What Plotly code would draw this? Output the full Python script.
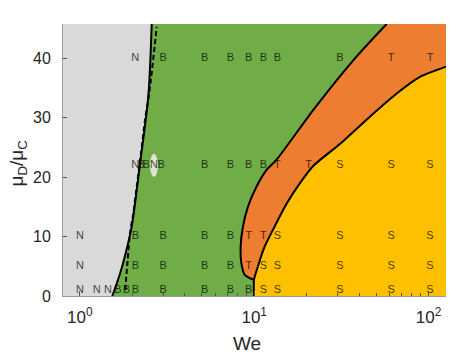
import numpy as np
import plotly.graph_objects as go

# ---------------- data ----------------
x_lim = [0.8, 126]
y_lim = [0, 45.8]

x_tickvals = [1, 10, 100]
x_ticktext = ["10<sup>0</sup>", "10<sup>1</sup>", "10<sup>2</sup>"]
x_minor = [2, 3, 4, 5, 6, 7, 8, 9, 20, 30, 40, 50, 60, 70, 80, 90]
y_tickvals = [0, 10, 20, 30, 40]

# regime labels, one row per viscosity ratio
row40_we = [2.08, 3, 5.2, 7.3, 9.3, 11.3, 13.6, 31, 61, 102]
row40_lab = ["N", "B", "B", "B", "B", "B", "B", "B", "T", "T"]
row22_we = [2.08, 2.25, 2.4, 2.66, 2.93, 5.2, 7.3, 9.3, 11.3, 13.6, 20.5, 31, 61, 102]
row22_lab = ["N", "B", "B", "N", "B", "B", "B", "B", "B", "T", "T", "S", "S", "S"]
row10_we = [1, 2.08, 3, 5.2, 7.3, 9.3, 11.3, 13.6, 31, 61, 102]
row10_lab = ["N", "B", "B", "B", "B", "T", "T", "S", "S", "S", "S"]
row5_we = [1, 2.08, 3, 5.2, 7.3, 9.3, 11.3, 13.6, 31, 61, 102]
row5_lab = ["N", "B", "B", "B", "B", "T", "S", "S", "S", "S", "S"]
row1_we = [1, 1.25, 1.45, 1.65, 1.85, 2.08, 3, 5.2, 7.3, 9.3, 11.3, 13.6, 31, 61, 102]
row1_lab = ["N", "N", "N", "B", "B", "B", "B", "B", "B", "B", "S", "S", "S", "S", "S"]
row_ratios = [40, 22, 10, 5, 1]

# highlighted point
mark_we = 2.66
mark_ratio = 22

# boundary: no breakup / breakup (solid)
solid_we = [1.534, 1.70, 1.832, 1.982, 2.212, 2.469, 2.582]
solid_y = [0, 3.8, 7.24, 11.67, 22.2, 33.6, 45.8]
# model prediction (dashed)
dashed_we = [1.82, 1.88, 1.939, 2.025, 2.118, 2.241, 2.363, 2.525, 2.758]
dashed_y = [1.0, 6.06, 10.6, 13.9, 18.4, 24.0, 29.6, 35.2, 45.3]
# boundary: breakup / transition
go_we = [9.97, 9.42, 8.82, 8.44, 8.36, 8.62, 9.21, 10.3, 11.75, 13.4, 21.8, 38.6, 57.5]
go_y = [2.74, 3.0, 3.58, 5.55, 8.34, 11.7, 15.06, 18.4, 21.2, 22.9, 31.3, 40.3, 45.8]
# boundary: transition / stripping
oy_we = [9.97, 9.97, 10.5, 11.49, 13.1, 15.4, 18.3, 21.8, 31.0, 46.1, 65.7, 89.3, 126]
oy_y = [0, 2.74, 4.97, 8.34, 11.7, 15.6, 19.0, 21.9, 25.6, 30.2, 34.1, 36.9, 38.6]

# ---------------- styles ----------------
GRAY = "#d9d9d9"
GREEN = "#70ad47"
ORANGE = "#ed7d31"
YELLOW = "#ffc000"
FONT = "Liberation Sans, Arial, sans-serif"
TXT = "#262626"

fig = go.Figure()

# regions
green_x = solid_we + go_we[::-1] + [go_we[0]]
green_y = solid_y + go_y[::-1] + [0]
fig.add_trace(go.Scatter(x=green_x, y=green_y, fill="toself", fillcolor=GREEN,
                         mode="lines", line=dict(width=0), hoverinfo="skip"))

orange_x = go_we + [x_lim[1]] + oy_we[::-1][:-1]
orange_y = go_y + [y_lim[1]] + oy_y[::-1][:-1]
fig.add_trace(go.Scatter(x=orange_x, y=orange_y, fill="toself", fillcolor=ORANGE,
                         mode="lines", line=dict(width=0), hoverinfo="skip"))

yellow_x = oy_we + [x_lim[1]]
yellow_y = oy_y + [0]
fig.add_trace(go.Scatter(x=yellow_x, y=yellow_y, fill="toself", fillcolor=YELLOW,
                         mode="lines", line=dict(width=0), hoverinfo="skip"))

# highlight ellipse around the marked point
t = np.linspace(0, 2 * np.pi, 60)
dx_log = 4.0 / 174.0
dy = 1.95
ex = 10 ** (np.log10(mark_we) + dx_log * np.cos(t))
ey = mark_ratio + dy * np.sin(t)
fig.add_trace(go.Scatter(x=ex, y=ey, fill="toself", fillcolor="rgba(238,238,238,0.85)",
                         mode="lines", line=dict(width=0), hoverinfo="skip"))

# boundary lines
fig.add_trace(go.Scatter(x=solid_we, y=solid_y, mode="lines",
                         line=dict(color="black", width=2, shape="spline", smoothing=0.8)))
fig.add_trace(go.Scatter(x=dashed_we, y=dashed_y, mode="lines",
                         line=dict(color="black", width=2, dash="5px,3px", shape="spline", smoothing=0.8)))
fig.add_trace(go.Scatter(x=go_we, y=go_y, mode="lines",
                         line=dict(color="black", width=2, shape="spline", smoothing=0.6)))
fig.add_trace(go.Scatter(x=oy_we, y=oy_y, mode="lines",
                         line=dict(color="black", width=2, shape="spline", smoothing=0.5)))

# regime letters
rows_we = [row40_we, row22_we, row10_we, row5_we, row1_we]
rows_lab = [row40_lab, row22_lab, row10_lab, row5_lab, row1_lab]
for r, wes, labs in zip(row_ratios, rows_we, rows_lab):
    fig.add_trace(go.Scatter(x=wes, y=[r] * len(wes), mode="text", text=labs,
                             textposition="middle center",
                             textfont=dict(family=FONT, size=11, color="rgba(0,0,0,0.72)"),
                             hoverinfo="skip"))

fig.update_layout(
    width=474, height=355,
    margin=dict(l=63, r=28, t=24, b=59),
    paper_bgcolor="white", plot_bgcolor=GRAY,
    showlegend=False,
    font=dict(family=FONT, color=TXT),
)
fig.update_xaxes(
    type="log", range=[np.log10(x_lim[0]), np.log10(x_lim[1])],
    tickvals=x_tickvals, ticktext=x_ticktext,
    tickfont=dict(size=17, color=TXT, family=FONT),
    ticks="inside", ticklen=5, tickcolor="#555555",
    ticklabelstandoff=6,
    showgrid=False, zeroline=False,
    showline=True, linecolor="#9a9a9a", linewidth=1,
    minor=dict(tickvals=x_minor, ticks="inside", ticklen=3, tickcolor="#555555", showgrid=False),
)
fig.update_yaxes(
    range=y_lim, tickvals=y_tickvals,
    tickfont=dict(size=16, color=TXT, family=FONT),
    ticks="inside", ticklen=4, tickcolor="#555555",
    ticklabelstandoff=8,
    showgrid=False, zeroline=False,
    showline=True, linecolor="#9a9a9a", linewidth=1,
)
fig.add_annotation(text="We", xref="paper", yref="paper", x=0.48, y=-0.175,
                   xanchor="center", yanchor="middle", showarrow=False,
                   font=dict(size=19, color=TXT, family=FONT))
fig.add_annotation(text="μ<sub>D</sub>/μ<sub>C</sub>", xref="paper", yref="paper",
                   x=-0.118, y=0.49, xanchor="center", yanchor="middle", textangle=-90,
                   showarrow=False, font=dict(size=19, color=TXT, family=FONT))

fig.write_html("out.html", config={"displayModeBar": False},
               post_script="document.body.style.margin='0';document.body.style.overflow='hidden';")
